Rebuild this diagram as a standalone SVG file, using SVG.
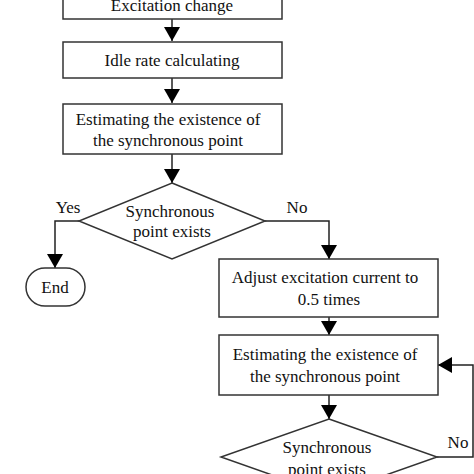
<svg xmlns="http://www.w3.org/2000/svg" width="474" height="474" viewBox="0 0 474 474">
<defs>
<marker id="ah" viewBox="0 0 14 16" refX="14" refY="8" markerWidth="14" markerHeight="16" markerUnits="userSpaceOnUse" orient="auto">
<path d="M0,0 L14,8 L0,16 Z" fill="#000"/>
</marker>
<style>
.box{fill:#fff;stroke:#333;stroke-width:1.5}
.ln{fill:none;stroke:#222;stroke-width:1.5;marker-end:url(#ah)}
text{font-family:"Liberation Serif","Times New Roman",serif;font-size:17px;fill:#111;text-anchor:middle}
</style>
</defs>
<rect width="474" height="474" fill="#fff"/>
<g id="connectors">
<path class="ln" d="M172,19 V41"/>
<path class="ln" d="M172,78 V103"/>
<path class="ln" d="M172,154 V183"/>
<path class="ln" d="M79,221 H55 V268"/>
<path class="ln" d="M265,221 H329 V259"/>
<path class="ln" d="M329,317 V335"/>
<path class="ln" d="M329,395 V419"/>
<path class="ln" d="M437,457 H473 V365 H438"/>
</g>
<g id="n1"><rect class="box" x="63" y="-10" width="219" height="29"/><text x="172" y="11">Excitation change</text></g>
<g id="n2"><rect class="box" x="63" y="42" width="219" height="36"/><text x="172" y="66">Idle rate calculating</text></g>
<g id="n3"><rect class="box" x="63" y="104" width="219" height="50"/><text x="168" y="125">Estimating the existence of</text><text x="168" y="146">the synchronous point</text></g>
<g id="d1"><path class="box" d="M172,183 L265,221 L172,259 L79,221 Z"/><text x="170" y="217">Synchronous</text><text x="172" y="237">point exists</text></g>
<g id="lyes"><text x="68" y="213">Yes</text></g>
<g id="lno1"><text x="297" y="213">No</text></g>
<g id="end"><rect class="box" x="26" y="268" width="59" height="38" rx="19"/><text x="55" y="293">End</text></g>
<g id="n4"><rect class="box" x="219" y="259" width="219" height="58"/><text x="325" y="283">Adjust excitation current to</text><text x="329" y="305">0.5 times</text></g>
<g id="n5"><rect class="box" x="219" y="335" width="219" height="60"/><text x="325" y="360">Estimating the existence of</text><text x="325" y="382">the synchronous point</text></g>
<g id="d2"><path class="box" d="M329,419 L437,457 L329,495 L221,457 Z"/><text x="327" y="453">Synchronous</text><text x="327" y="475">point exists</text></g>
<g id="lno2"><text x="458" y="448">No</text></g>
</svg>
